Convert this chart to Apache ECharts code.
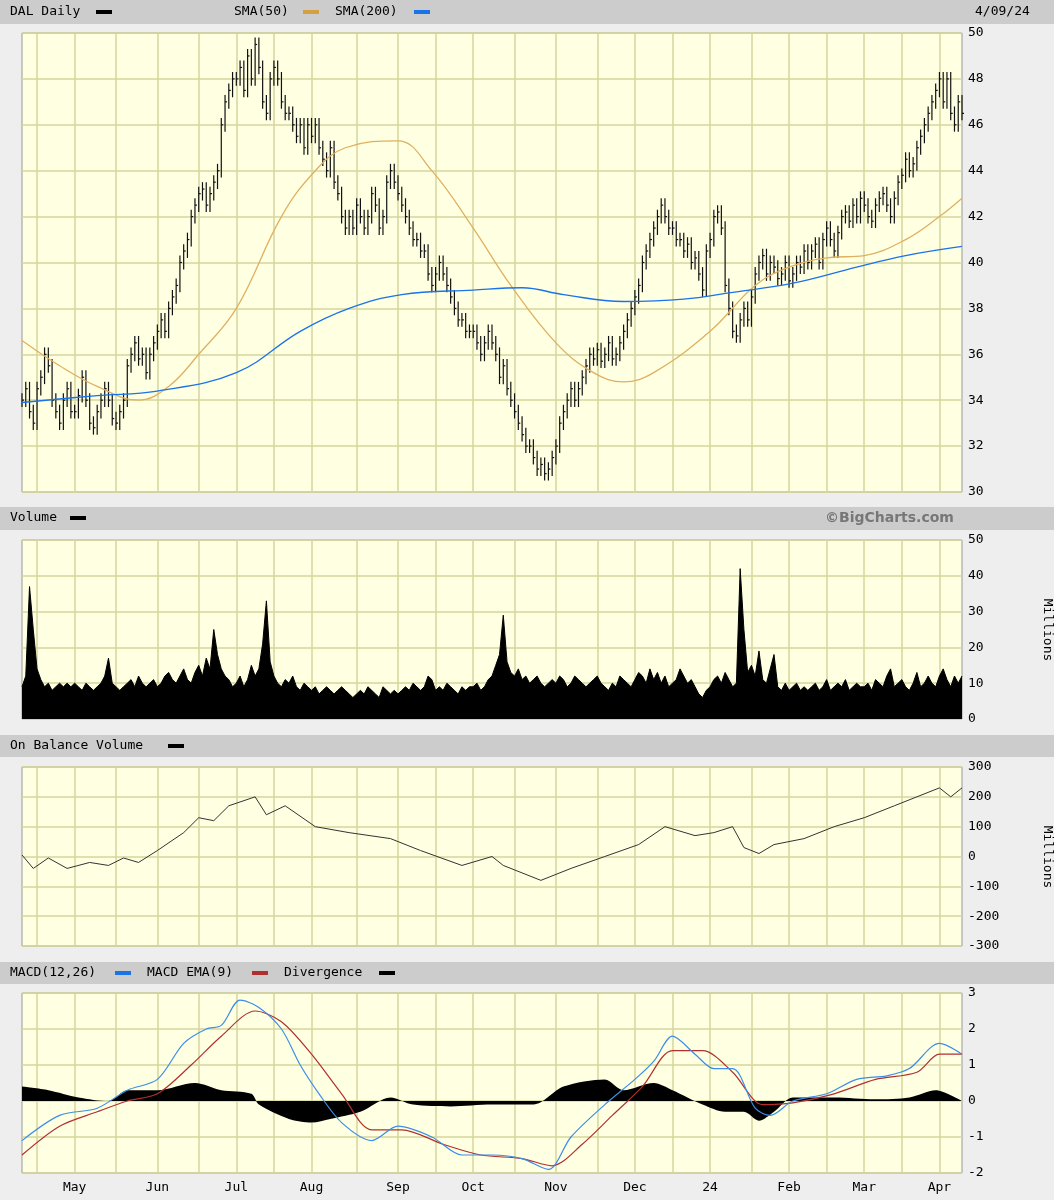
<!DOCTYPE html>
<html><head><meta charset="utf-8">
<script src="https://cdn.jsdelivr.net/npm/echarts@6/dist/echarts.min.js"></script>
<style>html,body{margin:0;padding:0;background:#eeeeee}#c{width:1054px;height:1200px}</style>
</head><body><div id="c"></div>
<script>
const closes = [
34,34.5,33.5,33,34.5,35,36,35.5,34,33.5,33,34,34.5,33.5,
33.5,34.2,35,34,33,32.8,33.5,34,34.5,34,33.2,33,33.5,34,35.5,36,36.5,35.8,36,35.2,36,36.5,
37,37.5,37,38,38.5,39,40,40.5,41,42,42.5,43,43.2,42.5,43,43.5,44,46,47,47.5,48,
48,48.5,47.5,49,48,49.5,48.5,47,46.5,48,48.5,48,47,46.5,46.5,46,45.5,46,45,46,
45.5,46,45,44.5,44,45,43.5,43,42,41.5,42,41.5,42.5,42,41.5,42,43,42.5,41.5,42,43.5,44,43.5,
43,42.5,42,41.5,41,41,40.5,40.5,39.5,39,39.5,40,39.5,39,38.5,38,37.5,37.5,37,37,
37,36.5,36,36.5,37,36.5,36,35,35.5,34.5,34,33.5,33,32.5,32,32,31.5,31,31.2,30.8,31,31.5,
32,33,33.5,34,34.5,34,34.5,35,35.5,36,35.8,36.2,35.7,36,36.5,35.8,36,36.5,37,37.5,38,
38.5,39,40,40.5,41,41.5,42,42.5,42,41.5,41.5,41,41,40.5,40.8,40,40.2,39.5,38.8,40.5,
41,42,42.2,41.5,39,38,37,36.8,37.5,38,37.5,38.5,39.5,40,40.3,39.5,40,39.8,39.3,39.5,40,
39.2,39.5,40,39.8,40.5,40,40.5,40.8,40,41,41.5,41,40.5,41.3,42,42.2,41.8,42.5,42,42.8,
42.5,42,41.8,42.5,42.8,43,42.5,42,42.8,43.5,43.8,44.5,44,44.3,45,45.5,46,46.5,47,47.5,
48,47,48,46.5,46,47,46.5];
const volume = [
9,12,37,25,14,11,9,10,8,9,10,9,10,9,
10,9,8,10,9,8,9,10,12,17,10,9,8,9,10,11,9,12,10,9,10,11,
9,10,12,13,11,10,12,14,11,10,13,15,12,17,14,25,18,14,12,11,9,
10,12,9,11,15,12,14,21,33,16,12,10,9,11,10,12,9,8,10,9,
8,9,7,8,9,8,7,8,9,8,7,6,7,8,7,9,8,7,6,9,8,7,8,
7,8,9,8,10,9,8,9,12,11,8,9,8,10,9,8,7,9,8,9,
9,10,8,9,11,12,15,18,29,16,13,12,14,11,12,10,11,12,10,9,10,11,
10,12,11,9,10,12,11,10,9,10,11,12,10,9,8,10,9,12,11,10,9,
11,13,12,10,14,11,13,10,12,9,10,11,14,12,10,11,9,7,6,8,
9,11,12,10,13,11,9,10,42,25,13,15,12,19,11,10,14,18,9,8,10,
8,9,10,8,9,8,9,10,8,9,11,8,9,10,9,11,8,9,10,9,
9,10,8,11,10,9,12,14,9,10,11,9,8,10,13,9,10,12,10,9,
12,14,11,9,12,10,12];
const monthIdx = [14,36,57,77,100,120,142,163,183,204,224,244];
const monthLabels = ['May','Jun','Jul','Aug','Sep','Oct','Nov','Dec','24','Feb','Mar','Apr'];
const sma50Pts = [[24,36.6],[60,35.5],[100,34.6],[140,34],[170,34.6],[200,36],[237,38],[280,42],[313,44],[345,45],[397,45.3],[430,44],[472,41.5],[510,39],[553,36.5],[590,35.2],[620,34.8],[650,35.2],[707,37],[750,39],[785,39.8],[820,40.2],[859,40.3],[900,41],[933,42],[956,42.8]];
const sma200Pts = [[24,33.9],[100,34.2],[160,34.4],[237,35.2],[300,37],[350,38],[400,38.6],[470,38.8],[520,38.9],[560,38.6],[620,38.3],[680,38.4],[730,38.7],[790,39.1],[850,39.8],[900,40.3],[956,40.7]];
const obvPts = [[24,5],[35,-40],[50,-5],[70,-40],[90,-20],[110,-30],[125,-5],[140,-20],[160,20],[185,80],[200,130],[215,120],[230,170],[255,200],[268,140],[285,170],[315,100],[350,80],[390,60],[420,20],[460,-30],[490,0],[500,-30],[540,-80],[570,-40],[600,0],[635,40],[660,100],[690,70],[710,80],[730,100],[740,30],[755,10],[770,40],[800,60],[830,100],[860,130],[890,170],[910,200],[935,230],[945,200],[956,230]];
const macdPts = [[24,-1.1],[60,-0.4],[100,-0.2],[130,0.3],[160,0.6],[185,1.6],[205,2.0],[220,2.1],[240,2.8],[260,2.6],[280,2.0],[300,1.0],[320,0.2],[340,-0.6],[370,-1.1],[395,-0.7],[430,-1.0],[460,-1.5],[490,-1.5],[520,-1.6],[545,-1.9],[570,-1.0],[600,-0.1],[630,0.6],[650,1.1],[670,1.8],[690,1.3],[710,0.9],[730,0.9],[750,-0.2],[765,-0.4],[790,0],[820,0.2],[850,0.6],[880,0.7],[905,0.9],[935,1.6],[956,1.3]];
const signalPts = [[24,-1.5],[60,-0.7],[100,-0.3],[130,0],[160,0.2],[190,1.0],[220,1.8],[255,2.5],[280,2.2],[310,1.3],[340,0.2],[370,-0.8],[400,-0.8],[440,-1.2],[480,-1.5],[520,-1.6],[550,-1.8],[580,-1.2],[610,-0.4],[640,0.4],[670,1.4],[700,1.4],[730,0.8],[760,-0.1],[790,-0.05],[830,0.2],[870,0.6],[910,0.8],[935,1.3],[956,1.3]];
const divPts = [[24,0.4],[50,0.3],[80,0.1],[110,0],[130,0.3],[160,0.3],[195,0.5],[220,0.3],[250,0.2],[260,-0.1],[290,-0.5],[310,-0.6],[330,-0.5],[360,-0.3],[390,0.1],[410,-0.1],[450,-0.15],[490,-0.1],[530,-0.1],[560,0.4],[600,0.6],[620,0.3],[650,0.5],[670,0.3],[700,-0.1],[720,-0.3],[740,-0.3],[755,-0.55],[770,-0.3],[790,0.1],[830,0.1],[870,0.05],[905,0.1],[930,0.3],[956,0]];

const N = closes.length;
const cats = closes.map((_, i) => i);
function sparse(pts){const a=new Array(N).fill(null);pts.forEach(([x,v])=>{let i=Math.round((x-24)/(932/(N-1)));i=Math.max(0,Math.min(N-1,i));a[i]=v;});return a;}
const ohlc = closes.map((c,i)=>{const o=i?closes[i-1]:c;return [i,o,c,Math.min(o,c)-0.3,Math.max(o,c)+0.3];});
const mids = monthIdx.slice(0,-1).map((m,k)=>Math.round((m+monthIdx[k+1])/2)).concat([Math.round(monthIdx[0]-10)]);
const gridSet = new Set(monthIdx.concat(mids));
const F = 'DejaVu Sans Mono';
const grids = [{top:33,height:459},{top:540,height:179},{top:767,height:179},{top:993,height:180}].map(g=>Object.assign({left:22,right:92,backgroundColor:'#ffffe2',show:true,borderColor:'#999',borderWidth:1},g));
const xAxes = grids.map((g,k)=>({type:'category',gridIndex:k,data:cats,boundaryGap:false,
  axisLine:{show:false},axisTick:{show:false},
  axisLabel:{show:k===3,interval:(i)=>monthIdx.includes(i),formatter:(v)=>monthLabels[monthIdx.indexOf(+v)]||'',fontFamily:F,fontSize:13,color:'#000',margin:8},
  splitLine:{show:true,interval:(i)=>gridSet.has(i),lineStyle:{color:'#d6d69c',width:1.5}}}));
function yax(k,min,max,int){return {type:'value',gridIndex:k,position:'right',min,max,interval:int,
  axisLine:{show:false},axisTick:{show:false},axisLabel:{fontFamily:F,fontSize:13,color:'#000',margin:6},
  splitLine:{lineStyle:{color:'#d6d69c',width:1.5}}};}
const yAxes=[yax(0,30,50,2),yax(1,0,50,10),yax(2,-300,300,100),yax(3,-2,3,1)];
function strip(y,h){return {type:'rect',shape:{x:0,y:y,width:1054,height:h},style:{fill:'#cccccc'}};}
function txt(x,y,t,extra){return Object.assign({type:'text',x,y,style:{text:t,fontFamily:F,fontSize:13,fill:'#000',textVerticalAlign:'middle'}},extra||{});}
function key(x,y,c){return {type:'rect',shape:{x,y:y-2,width:16,height:4},style:{fill:c}};}
const graphic=[strip(0,24),strip(507,23),strip(735,22),strip(962,22),
 txt(10,12,'DAL Daily'),key(96,12,'#000'),txt(234,12,'SMA(50)'),key(303,12,'#d4a040'),txt(335,12,'SMA(200)'),key(414,12,'#1a73e8'),txt(975,12,'4/09/24'),
 txt(10,518,'Volume'),key(70,518,'#000'),txt(825,518,'©BigCharts.com',{style:{text:'©BigCharts.com',fontFamily:'DejaVu Sans',fontWeight:'bold',fontSize:14,fill:'#777',textVerticalAlign:'middle'}}),
 txt(10,746,'On Balance Volume'),key(168,746,'#000'),
 txt(10,973,'MACD(12,26)'),key(115,973,'#1a73e8'),txt(147,973,'MACD EMA(9)'),key(252,973,'#b03030'),txt(284,973,'Divergence'),key(379,973,'#000'),
 {type:'text',x:1047,y:630,rotation:-Math.PI/2,style:{text:'Millions',fontFamily:F,fontSize:13,fill:'#000',textAlign:'center',textVerticalAlign:'middle'}},
 {type:'text',x:1047,y:857,rotation:-Math.PI/2,style:{text:'Millions',fontFamily:F,fontSize:13,fill:'#000',textAlign:'center',textVerticalAlign:'middle'}}
];
const opt={animation:false,backgroundColor:'#eeeeee',grid:grids,xAxis:xAxes,yAxis:yAxes,graphic,
 series:[
  {type:'custom',xAxisIndex:0,yAxisIndex:0,data:ohlc,encode:{x:0,y:[1,2,3,4]},renderItem:(p,api)=>{
    const i=api.value(0),c=api.value(2),lo=api.value(3),hi=api.value(4);
    const a=api.coord([i,hi]),b=api.coord([i,lo]),cc=api.coord([i,c]);
    return {type:'group',children:[{type:'line',shape:{x1:a[0],y1:a[1],x2:b[0],y2:b[1]},style:{stroke:'#111',lineWidth:1.2}},
      {type:'line',shape:{x1:cc[0],y1:cc[1],x2:cc[0]+2,y2:cc[1]},style:{stroke:'#111',lineWidth:1.2}}]};}},
  {type:'line',xAxisIndex:0,yAxisIndex:0,data:sparse(sma50Pts),connectNulls:true,smooth:0.4,showSymbol:false,lineStyle:{color:'#e0b060',width:1.3}},
  {type:'line',xAxisIndex:0,yAxisIndex:0,data:sparse(sma200Pts),connectNulls:true,smooth:0.4,showSymbol:false,lineStyle:{color:'#1a73e8',width:1.3}},
  {type:'line',xAxisIndex:1,yAxisIndex:1,data:volume,showSymbol:false,lineStyle:{color:'#000',width:1},areaStyle:{color:'#000',opacity:1}},
  {type:'line',xAxisIndex:2,yAxisIndex:2,data:sparse(obvPts),connectNulls:true,showSymbol:false,lineStyle:{color:'#333',width:1}},
  {type:'line',xAxisIndex:3,yAxisIndex:3,data:sparse(divPts),connectNulls:true,smooth:0.3,showSymbol:false,lineStyle:{width:0},areaStyle:{color:'#000',opacity:1,origin:0}},
  {type:'line',xAxisIndex:3,yAxisIndex:3,data:sparse(signalPts),connectNulls:true,smooth:0.3,showSymbol:false,lineStyle:{color:'#b03030',width:1.2}},
  {type:'line',xAxisIndex:3,yAxisIndex:3,data:sparse(macdPts),connectNulls:true,smooth:0.3,showSymbol:false,lineStyle:{color:'#3a8ee8',width:1.2}}
 ]};
echarts.init(document.getElementById('c')).setOption(opt);
</script></body></html>
